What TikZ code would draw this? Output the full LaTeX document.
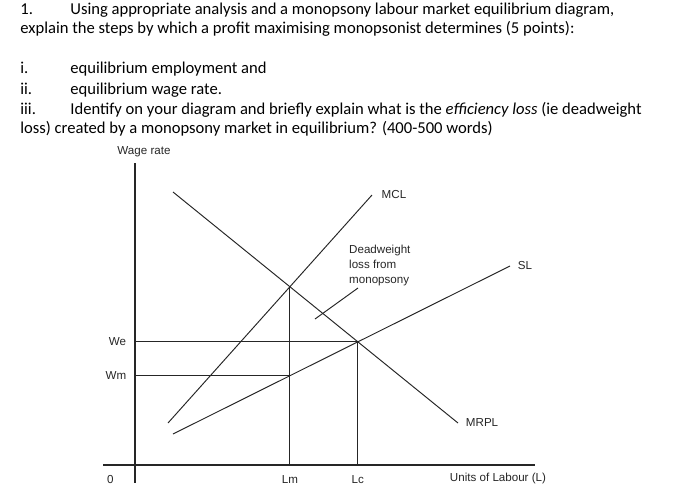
\documentclass[tikz,border=0pt]{standalone}
\usepackage{fontspec}
\setmainfont{Carlito}
\newfontfamily\graphfont{Liberation Sans}
\usetikzlibrary{positioning, intersections}

\begin{document}
\begin{tikzpicture}[
    x=0.02cm, y=-0.02cm,
    % --- styles ---
    % question text
    qtext/.style={anchor=base west, inner sep=0pt, font=\fontsize{9.45}{12}\selectfont},
    % diagram labels
    lbl/.style={font=\graphfont\fontsize{6.6}{8.5}\selectfont, text=black!85},
    % lines
    axis/.style={draw=black!85, line width=0.8pt},
    curve/.style={draw=black!85, line width=0.55pt},
    guide/.style={draw=black!85, line width=0.6pt}
]
\useasboundingbox (0,0) rectangle (700,494);

% --- 1. Question text ---
\node[qtext] (qnum) at (20,14) {1.};
\node[qtext] (qline1) at (70,14) {Using appropriate analysis and a monopsony labour market equilibrium diagram,};
\node[qtext] (qline2) at (20,33) {explain the steps by which a profit maximising monopsonist determines (5 points):};

\node[qtext] (inum) at (20,73) {i.};
\node[qtext] (itext) at (70,73) {equilibrium employment and};
\node[qtext] (iinum) at (20,94) {ii.};
\node[qtext] (iitext) at (70,94) {equilibrium wage rate.};
\node[qtext] (iiinum) at (20,114) {iii.};
\node[qtext] (iiitext) at (70,114) {Identify on your diagram and briefly explain what is the \textit{efficiency loss} (ie deadweight};
\node[qtext] (iiitext2) at (20,133) {loss) created by a monopsony market in equilibrium? (400-500 words)};

% --- 2. Axes ---
\coordinate (O) at (135,465);
\draw[axis] (135,163) coordinate (ytop) -- (135,483);
\draw[axis] (103,465) -- (535,465) coordinate (xend);

% --- 3. Curves ---
\draw[curve, name path=mrpl] (173,192) -- (458,423) coordinate (mrplend);
\draw[curve, name path=mcl] (168,423) -- (372,195) coordinate (mclend);
\draw[curve, name path=sl] (173,434) -- (510,266) coordinate (slend);

\path[name intersections={of=mrpl and mcl, by=mono}];
\path[name intersections={of=mrpl and sl, by=comp}];
\path[name path=lmline] (mono) -- (mono |- O);
\path[name intersections={of=lmline and sl, by=wmpt}];

% --- 4. Guide lines ---
\draw[guide] (mono) -- (mono |- O) coordinate (lm);
\draw[guide] (comp) -- (comp |- O) coordinate (lc);
\draw[guide] (O |- comp) coordinate (we) -- (comp);
\draw[guide] (O |- wmpt) coordinate (wm) -- (wmpt);

% deadweight pointer
\draw[curve] (315,319) -- (358,288) coordinate (dwltip);
\node[lbl, align=left, anchor=north west] (dwl) at (343,239) {Deadweight\\loss from\\monopsony};

% --- 5. Labels ---
\node[lbl, right=2pt of mclend] (mcllbl) {MCL};
\node[lbl, right=1pt of slend] (sllbl) {SL};
\node[lbl, right=1pt of mrplend] (mrpllbl) {MRPL};

\node[lbl, left=1.5pt of we] (welbl) {We};
\node[lbl, left=1.5pt of wm] (wmlbl) {Wm};

\node[lbl, below=2.3pt of lm] (lmlbl) {Lm};
\node[lbl, below=2.3pt of lc] (lclbl) {Lc};
\node[lbl, below left=2.3pt and 8.7pt of O] (zerolbl) {0};

\node[lbl] (xlbl) at (498,478) {Units of Labour (L)};
\node[lbl] (ylbl) at (144,152) {Wage rate};

\end{tikzpicture}
\end{document}
